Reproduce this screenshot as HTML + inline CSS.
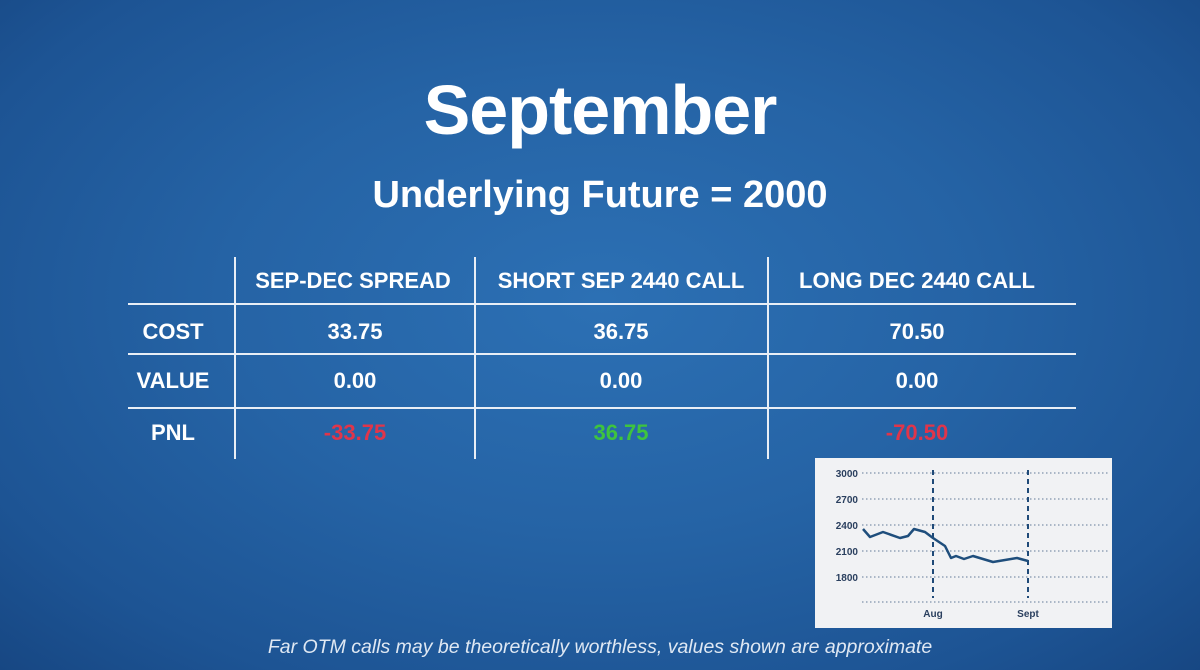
<!DOCTYPE html>
<html><head><style>
body{margin:0;width:1200px;height:670px;overflow:hidden;font-family:"Liberation Sans",sans-serif;
background:radial-gradient(ellipse at 50% 45%,#2c70b4 0%,#2563a5 45%,#1d5494 80%,#174783 100%);position:relative;color:#fff}
.t{position:absolute;white-space:nowrap;font-weight:bold}
.c{transform:translateX(-50%)}
.l{position:absolute;background:#e8eef6}
</style></head><body>
<div class="t c" style="left:600px;top:70px;font-size:70px;letter-spacing:-1px">September</div>
<div class="t c" style="left:600px;top:174px;font-size:38px;letter-spacing:0px">Underlying Future = 2000</div>

<div class="l" style="left:234px;top:257px;width:2px;height:202px"></div>
<div class="l" style="left:474px;top:257px;width:2px;height:202px"></div>
<div class="l" style="left:767px;top:257px;width:2px;height:202px"></div>
<div class="l" style="left:128px;top:303px;width:948px;height:2px"></div>
<div class="l" style="left:128px;top:353px;width:948px;height:2px"></div>
<div class="l" style="left:128px;top:407px;width:948px;height:2px"></div>

<div class="t c" style="left:353px;top:268px;font-size:22px">SEP-DEC SPREAD</div>
<div class="t c" style="left:621px;top:268px;font-size:22px">SHORT SEP 2440 CALL</div>
<div class="t c" style="left:917px;top:268px;font-size:22px">LONG DEC 2440 CALL</div>

<div class="t c" style="left:173px;top:319px;font-size:22px">COST</div>
<div class="t c" style="left:173px;top:368px;font-size:22px">VALUE</div>
<div class="t c" style="left:173px;top:420px;font-size:22px">PNL</div>

<div class="t c" style="left:355px;top:319px;font-size:22px">33.75</div>
<div class="t c" style="left:621px;top:319px;font-size:22px">36.75</div>
<div class="t c" style="left:917px;top:319px;font-size:22px">70.50</div>
<div class="t c" style="left:355px;top:368px;font-size:22px">0.00</div>
<div class="t c" style="left:621px;top:368px;font-size:22px">0.00</div>
<div class="t c" style="left:917px;top:368px;font-size:22px">0.00</div>
<div class="t c" style="left:355px;top:420px;font-size:22px;color:#e0354a">-33.75</div>
<div class="t c" style="left:621px;top:420px;font-size:22px;color:#3ec43e">36.75</div>
<div class="t c" style="left:917px;top:420px;font-size:22px;color:#e0354a">-70.50</div>

<svg style="position:absolute;left:0;top:0" width="1200" height="670">
<rect x="815" y="458" width="297" height="170" fill="#f1f2f4"/>
<g stroke="#7f93ab" stroke-width="1.3" stroke-dasharray="1.5,2.5">
<line x1="862" y1="473" x2="1108" y2="473"/><line x1="862" y1="499" x2="1108" y2="499"/>
<line x1="862" y1="525" x2="1108" y2="525"/><line x1="862" y1="551" x2="1108" y2="551"/>
<line x1="862" y1="577" x2="1108" y2="577"/><line x1="862" y1="602" x2="1108" y2="602"/>
</g>
<g stroke="#1f4a78" stroke-width="2" stroke-dasharray="5,4">
<line x1="933" y1="470" x2="933" y2="598"/><line x1="1028" y1="470" x2="1028" y2="598"/>
</g>
<polyline fill="none" stroke="#1f4e7c" stroke-width="2.5" stroke-linejoin="round"
points="863,529 870,537 883,532 900,538 908,536 914,529 925,532 933,538 945,546 951,558 956,556 964,559 973,556 993,562 1017,558 1028,561"/>
<g font-family="Liberation Sans" font-weight="bold" font-size="10" fill="#2a3f5e" text-anchor="end">
<text x="858" y="477">3000</text><text x="858" y="503">2700</text><text x="858" y="529">2400</text>
<text x="858" y="555">2100</text><text x="858" y="581">1800</text>
</g>
<g font-family="Liberation Sans" font-weight="bold" font-size="10" fill="#2a3f5e" text-anchor="middle">
<text x="933" y="617">Aug</text><text x="1028" y="617">Sept</text>
</g>
</svg>
<div class="t c" style="left:600px;top:636px;font-size:19.5px;font-weight:normal;font-style:italic;color:#dfe8f3">Far OTM calls may be theoretically worthless, values shown are approximate</div>
</body></html>
